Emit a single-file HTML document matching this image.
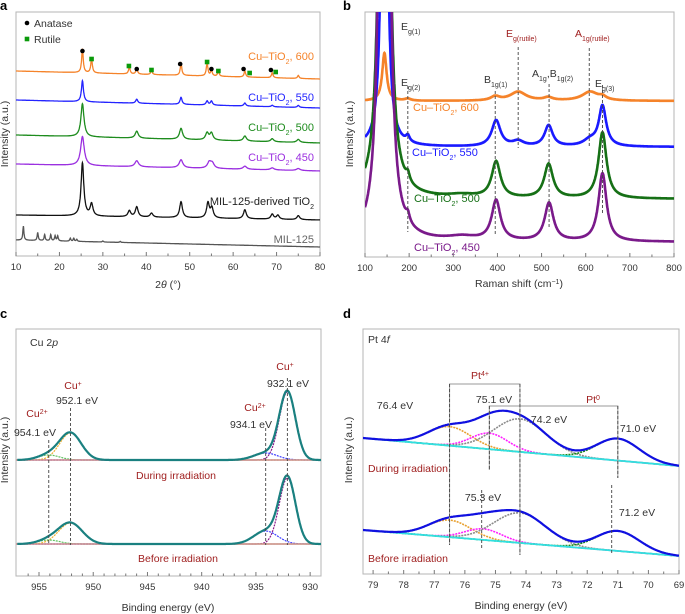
<!DOCTYPE html>
<html><head><meta charset="utf-8"><style>
html,body{margin:0;padding:0;background:#fff}
svg{display:block;font-family:"Liberation Sans",sans-serif}
.t{font-size:9.5px;fill:#333}
.l{font-size:10.5px;fill:#333}
</style></head><body>
<svg id="s" width="685" height="614" viewBox="0 0 685 614" xmlns="http://www.w3.org/2000/svg">
<defs>
<clipPath id="ca"><rect x="16" y="12" width="304" height="244"/></clipPath>
<clipPath id="cb"><rect x="365" y="12" width="309" height="245"/></clipPath>
<clipPath id="cc"><rect x="16" y="329" width="305" height="247"/></clipPath>
<clipPath id="cd"><rect x="363" y="329" width="316" height="245"/></clipPath>
</defs>
<g id="g"></g>
</svg>
<script>
// ---------- Panel a: XRD ----------
const xrdNames=["Cu–TiO2, 600","Cu–TiO2, 550","Cu–TiO2, 500","Cu–TiO2, 450","MIL-125-derived TiO2","MIL-125"];
const xrdBase=[[185,177],[156,148],[121,113],[92,85],[41,36],[16,9]];
const xrdWidth=[0.22,0.28,0.42,0.5,0.38,0.15];
const xrdPeaks=[
 [[25.3,24],[27.4,14],[36.1,7],[37.8,6],[41.2,4],[48,12],[54,13],[55,6],[56.6,5],[62.7,6],[69,5],[75,3]],
 [[25.3,21],[37.8,4],[48,7],[54,4],[55,4],[62.7,3],[69,1.5],[75,2]],
 [[25.3,33],[37.8,7],[48,11],[54,7],[55,7],[62.7,5],[69,3],[75,3]],
 [[25.3,29],[37.8,6],[48,8],[54.5,6],[55.2,5],[62.7,3],[69,2],[75,2]],
 [[25.3,53],[27.4,12],[36.1,6],[37.8,10],[41.2,4],[48,16],[54.2,15],[55.1,10],[62.7,9],[69,5],[70.3,4],[75,4]],
 [[11.7,14],[15,8],[16.6,6],[18,6],[19,5],[19.6,5],[22.5,3],[23.3,3],[24,2],[30,1],[34,1]]
];
const anataseMarks=[25.3,37.8,47.8,55,62.4,68.7];
const anataseY=[51,69,64,69,69,70];
const rutileMarks=[27.4,36,41.2,54,56.6,63.8,69.8];
const rutileY=[59,66,70,62,71,73,72];
const xrdTicks=[10,20,30,40,50,60,70,80];
// ---------- Panel b: Raman ----------
const ramNames=["Cu–TiO2, 600","Cu–TiO2, 550","Cu–TiO2, 500","Cu–TiO2, 450"];
const ramBase=[156,110,58,15];
const ramPeaks=[
 [[144,48,6],[197,2,8],[395,4,12],[447,9,22],[515,3,12],[610,9,22],[638,3,10]],
 [[144,780,5],[197,6,5],[397,26,12],[447,5,15],[516,21,11],[610,6,18],[638,40,10]],
 [[144,2400,5],[197,8,5],[320,3,40],[397,36,12],[516,34,12],[638,66,11]],
 [[144,2700,5],[197,8,5],[320,4,40],[397,40,12],[517,38,12],[638,68,11]]
];
const ramTicks=[100,200,300,400,500,600,700,800];
// ---------- Panel c: Cu 2p ----------
const cuBase=[116,32];
const cuPeaks=[
 [[932.1,68,0.75],[934.1,7,1.1],[952.1,27,1.0],[954.1,5,1.0]],
 [[932.1,66,0.75],[934.1,13,1.1],[952.1,21,1.1],[954.1,4,1.0]]
];
const cuTicks=[955,950,945,940,935,930];
// ---------- Panel d: Pt 4f ----------
const ptBase=[[136,108],[44,18]];
const ptPeaks=[
 [[76.5,19,0.7],[75.2,16,0.6],[74.2,33,0.85],[71.0,22,0.7]],
 [[76.5,17,0.7],[75.4,11,0.6],[74.2,30,0.85],[71.0,20,0.7]]
];
const ptTicks=[79,78,77,76,75,74,73,72,71,70,69];

const NS="http://www.w3.org/2000/svg";
const G=document.getElementById("g");
function el(tag,attrs,parent){const e=document.createElementNS(NS,tag);for(const k in attrs)e.setAttribute(k,attrs[k]);(parent||G).appendChild(e);return e;}
function txt(x,y,s,cls,extra){const e=el("text",Object.assign({x:x,y:y,class:cls||"t"},extra||{}));e.innerHTML=s;return e;}
function lin(d0,d1,r0,r1){return v=>r0+(v-d0)*(r1-r0)/(d1-d0);}
const lor=(x,c,h,w)=>h/(1+((x-c)/w)**2);
const gau=(x,c,h,s)=>h*Math.exp(-((x-c)**2)/(2*s*s));
function pathD(xs,fx,fy){return xs.map((x,i)=>(i?"L":"M")+fx(x).toFixed(1)+","+fy(x).toFixed(1)).join("");}
function range(a,b,n){const r=[];for(let i=0;i<=n;i++)r.push(a+(b-a)*i/n);return r;}

function frame(x0,y0,x1,y1,name){
  const r=el("rect",{x:x0,y:y0,width:x1-x0,height:y1-y0,fill:"none",stroke:"#b5b5b5","stroke-width":1});
  
  
}
function xticks(ticks,sx,y,minor,name){
  const g=el("g",{});
  
  
  ticks.forEach(t=>{el("line",{x1:sx(t),x2:sx(t),y1:y,y2:y-4,stroke:"#777"},g);txt(sx(t),y+14,t,"t",{"text-anchor":"middle"});});
  minor.forEach(t=>{el("line",{x1:sx(t),x2:sx(t),y1:y,y2:y-2.5,stroke:"#777"},g);});
}
function ylab(x,y,name){const e=txt(x,y,"Intensity (a.u.)","l",{"text-anchor":"middle",transform:`rotate(-90 ${x} ${y})`});}
function dash(x,y1,y2){el("line",{x1:x,x2:x,y1:y1,y2:y2,stroke:"#444","stroke-dasharray":"3,2","stroke-width":0.9});}
function letter(x,y,s){const e=txt(x,y,s,"",{style:"font-size:13px;font-weight:bold;fill:#000"});}

// ===== Panel a =====
{
 const sx=lin(10,80,16,320), sy=lin(0,244,256,12);
 frame(16,12,320,256,"xrd-plot-frame");
 const colors=["#f5832a","#2424ff","#1e8c1e","#9b30e0","#111","#555"];
 const xs=range(10,80,1400);
 const gp=el("g",{"clip-path":"url(#ca)"});
 xrdNames.forEach((n,i)=>{
  const b=xrdBase[i];
  const f=x=>b[0]+(b[1]-b[0])*(x-10)/70+xrdPeaks[i].reduce((s,p)=>s+lor(x,p[0],p[1],xrdWidth[i]),0);
  const p=el("path",{d:pathD(xs,sx,x=>sy(f(x))),fill:"none",stroke:colors[i],"stroke-width":1.3},gp);
  
  
 });
 anataseMarks.forEach((m,i)=>{const c=el("circle",{cx:sx(m),cy:anataseY[i],r:2.3,fill:"#000"});});
 rutileMarks.forEach((m,i)=>{const r=el("rect",{x:sx(m)-2.3,y:rutileY[i]-2.3,width:4.6,height:4.6,fill:"#0a9a0a"});});
 el("circle",{cx:27,cy:23,r:2.3,fill:"#000"});txt(34,27,"Anatase","l");
 el("rect",{x:24.7,y:36.7,width:4.6,height:4.6,fill:"#0a9a0a"});txt(34,43,"Rutile","l");
 const labY=[60,101,131,161,205,243];
 const labs=["Cu–TiO<tspan baseline-shift='sub' font-size='7'>2</tspan>, 600","Cu–TiO<tspan baseline-shift='sub' font-size='7'>2</tspan>, 550","Cu–TiO<tspan baseline-shift='sub' font-size='7'>2</tspan>, 500","Cu–TiO<tspan baseline-shift='sub' font-size='7'>2</tspan>, 450","MIL-125-derived TiO<tspan baseline-shift='sub' font-size='7'>2</tspan>","MIL-125"];
 const lc=["#f5832a","#2424ff","#1e8c1e","#9b30e0","#222","#666"];
 labs.forEach((s,i)=>{const e=txt(314,labY[i],s,"l",{"text-anchor":"end",style:"font-size:11px;fill:"+lc[i]});});
 xticks(xrdTicks,sx,256,[15,25,35,45,55,65,75],"xrd-x-axis");
 txt(168,288,"2<tspan font-style='italic'>θ</tspan> (°)","l",{"text-anchor":"middle"});
 ylab(8,134,"xrd-y-axis-title");
 letter(0,10,"a");
}
// ===== Panel b =====
{
 const sx=lin(100,800,365,674), sy=lin(0,245,257,12);
 frame(365,12,674,257,"raman-plot-frame");
 const colors=["#f5832a","#1a1aff","#167016","#7a1a8a"];
 const xs=range(100,800,2800);
 const gp=el("g",{"clip-path":"url(#cb)"});
 ramNames.forEach((n,i)=>{
  const f=x=>ramBase[i]+ramPeaks[i].reduce((s,p)=>s+lor(x,p[0],p[1],p[2]),0);
  const p=el("path",{d:pathD(xs,sx,x=>sy(Math.min(f(x),400))),fill:"none",stroke:colors[i],"stroke-width":2.6},gp);
  
  
 });
 dash(sx(197),86,232);dash(sx(395),91,236);dash(sx(447),47,148);dash(sx(517),84,228);dash(sx(608),48,146);dash(sx(638),85,215);
 const sub=s=>"<tspan baseline-shift='sub' font-size='7'>"+s+"</tspan>";
 txt(401,30,"E"+sub("g(1)"),"l");txt(401,86,"E"+sub("g(2)"),"l");txt(484,83,"B"+sub("1g(1)"),"l");
 txt(506,37,"E"+sub("g(rutile)"),"l",{style:"fill:#a02020"});txt(575,37,"A"+sub("1g(rutile)"),"l",{style:"fill:#a02020"});
 txt(532,77,"A"+sub("1g")+",B"+sub("1g(2)"),"l");txt(595,87,"E"+sub("g(3)"),"l");
 const lt=["Cu–TiO"+sub("2")+", 600","Cu–TiO"+sub("2")+", 550","Cu–TiO"+sub("2")+", 500","Cu–TiO"+sub("2")+", 450"];
 const ly=[111,156,202,251],lx=[413,412,414,414],lc=["#f5832a","#1a1aff","#167016","#7a1a8a"];
 lt.forEach((s,i)=>{const e=txt(lx[i],ly[i],s,"l",{style:"font-size:11px;fill:"+lc[i]});});
 xticks(ramTicks,sx,257,[150,250,350,450,550,650,750],"raman-x-axis");
 txt(519,287,"Raman shift (cm<tspan baseline-shift='super' font-size='7'>−1</tspan>)","l",{"text-anchor":"middle"});
 ylab(353,134,"raman-y-axis-title");
 letter(343,10,"b");
}
// ===== Panel c =====
{
 const sx=lin(957,929,17.3,321), sy=lin(0,247,576,329);
 frame(16,329,321,576,"cu-plot-frame");
 const xs=range(957,929,700);
 const gp=el("g",{"clip-path":"url(#cc)"});
 cuPeaks.forEach((pk,j)=>{
  const b=cuBase[j];
  pk.forEach((p,k)=>{const c=["#8b1a8b","#4040ff","#f0b030","#60c060"][k];
   const e=el("path",{d:pathD(xs,sx,x=>sy(b+gau(x,p[0],p[1],p[2]))),fill:"none",stroke:c,"stroke-width":1.2,"stroke-dasharray":"2,1"},gp);
   });
  const bl=el("line",{x1:16,x2:321,y1:sy(b),y2:sy(b),stroke:"#d09090","stroke-width":1.5},gp);
  
  const e=el("path",{d:pathD(xs,sx,x=>sy(b+pk.reduce((s,p)=>s+gau(x,p[0],p[1],p[2]),0))),fill:"none",stroke:"#1a8080","stroke-width":2.2},gp);
  
 });
 dash(sx(952.1),408,545);dash(sx(954.1),440,545);dash(sx(934.1),428,545);dash(sx(932.1),378,545);
 const sup=s=>"<tspan baseline-shift='super' font-size='7'>"+s+"</tspan>";
 txt(30,346,"Cu 2<tspan font-style='italic'>p</tspan>","l");
 txt(73,389,"Cu"+sup("+"),"l",{"text-anchor":"middle",style:"fill:#a02020"});txt(77,404,"952.1 eV","l",{"text-anchor":"middle"});
 txt(37,417,"Cu"+sup("2+"),"l",{"text-anchor":"middle",style:"fill:#a02020"});txt(35,436,"954.1 eV","l",{"text-anchor":"middle"});
 txt(285,370,"Cu"+sup("+"),"l",{"text-anchor":"middle",style:"fill:#a02020"});txt(288,387,"932.1 eV","l",{"text-anchor":"middle"});
 txt(255,411,"Cu"+sup("2+"),"l",{"text-anchor":"middle",style:"fill:#a02020"});txt(251,428,"934.1 eV","l",{"text-anchor":"middle"});
 txt(176,479,"During irradiation","l",{"text-anchor":"middle",style:"fill:#a02020"});
 txt(178,562,"Before irradiation","l",{"text-anchor":"middle",style:"fill:#a02020"});
 xticks(cuTicks,sx,576,[956,954,953,952,951,949,948,947,946,944,943,942,941,939,938,937,936,934,933,932,931],"cu-x-axis");
 txt(168,611,"Binding energy (eV)","l",{"text-anchor":"middle"});
 ylab(8,450,"cu-y-axis-title");
 letter(0,318,"c");
}
// ===== Panel d =====
{
 const sx=lin(79.33,69,363,679), sy=lin(0,245,574,329);
 frame(363,329,679,574,"pt-plot-frame");
 const xs=range(79.33,69,600);
 const cols=["#e8a030","#ff20ff","#8a8a8a","#1a8a1a"];
 const gp=el("g",{"clip-path":"url(#cd)"});
 ptPeaks.forEach((pk,j)=>{
  const bb=ptBase[j];const base=x=>bb[0]+(bb[1]-bb[0])*(79.33-x)/10.33;
  pk.forEach((p,k)=>{const e=el("path",{d:pathD(xs,sx,x=>sy(base(x)+gau(x,p[0],p[1],p[2]))),fill:"none",stroke:cols[k],"stroke-width":1.6,"stroke-dasharray":"2,1"},gp);
   });
  const bl=el("path",{d:pathD(xs,sx,x=>sy(base(x))),fill:"none",stroke:"#30e0e0","stroke-width":1.8},gp);
  
  const e=el("path",{d:pathD(xs,sx,x=>sy(base(x)+pk.reduce((s,p)=>s+gau(x,p[0],p[1],p[2]),0))),fill:"none",stroke:"#1010e0","stroke-width":2.2},gp);
  
 });
 el("path",{d:`M${sx(76.5)},545V384H${sx(74.2)}V555`,fill:"none",stroke:"#999"});
 el("path",{d:`M${sx(75.2)},470V406H${sx(71.0)}V478`,fill:"none",stroke:"#999"});
 dash(sx(76.5),384,545);dash(sx(74.2),384,555);dash(sx(75.2),406,470);dash(sx(71.0),406,478);
 dash(sx(75.45),490,550);dash(sx(71.2),485,555);
 const sup=s=>"<tspan baseline-shift='super' font-size='7'>"+s+"</tspan>";
 txt(368,343,"Pt 4<tspan font-style='italic'>f</tspan>","l");
 txt(480,379,"Pt"+sup("4+"),"l",{"text-anchor":"middle",style:"fill:#a02020"});
 txt(593,403,"Pt"+sup("0"),"l",{"text-anchor":"middle",style:"fill:#a02020"});
 txt(395,409,"76.4 eV","l",{"text-anchor":"middle"});txt(494,403,"75.1 eV","l",{"text-anchor":"middle"});
 txt(549,423,"74.2 eV","l",{"text-anchor":"middle"});txt(638,432,"71.0 eV","l",{"text-anchor":"middle"});
 txt(483,501,"75.3 eV","l",{"text-anchor":"middle"});txt(637,516,"71.2 eV","l",{"text-anchor":"middle"});
 txt(368,472,"During irradiation","l",{style:"fill:#a02020"});
 txt(368,562,"Before irradiation","l",{style:"fill:#a02020"});
 xticks(ptTicks,sx,574,[78.5,77.5,76.5,75.5,74.5,73.5,72.5,71.5,70.5,69.5],"pt-x-axis");
 txt(521,609,"Binding energy (eV)","l",{"text-anchor":"middle"});
 ylab(352,450,"pt-y-axis-title");
 letter(343,318,"d");
}
</script>
</body></html>
